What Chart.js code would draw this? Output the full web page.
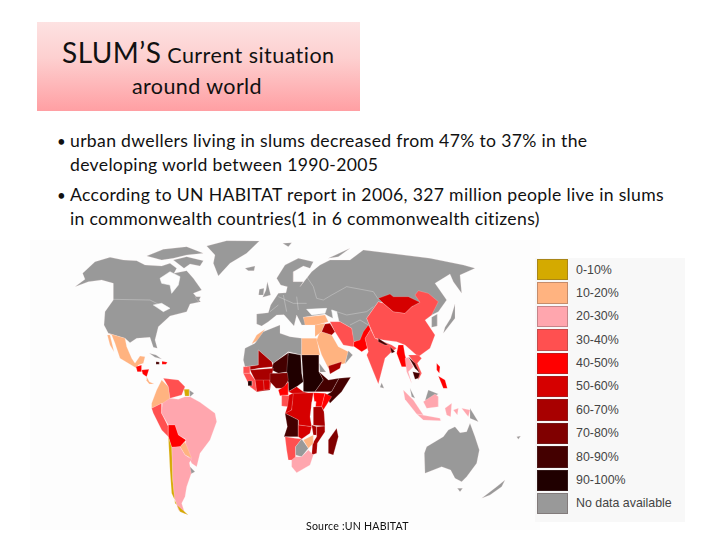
<!DOCTYPE html>
<html>
<head>
<meta charset="utf-8">
<title>Slums map</title>
<script src="https://cdn.jsdelivr.net/npm/chart.js@4"></script>
<style>
html, body { margin: 0; padding: 0; background: #fff; }
body { width: 720px; height: 540px; position: relative; overflow: hidden; font-family: Lato, sans-serif; color: #111; }
#titleBox { position: absolute; left: 37px; top: 22px; width: 323px; height: 89px; background: linear-gradient(#fde2e2, #fdd0d0 40%, #ff9fa3); }
#titleBox .l1 { position: absolute; left: 25px; top: 13px; white-space: nowrap; font-size: 21.5px; letter-spacing: .45px; }
#titleBox .l1 b { font-weight: normal; font-size: 28px; }
#titleBox .l2 { position: absolute; left: 95px; top: 51px; font-size: 21.5px; letter-spacing: .4px; white-space: nowrap; }
.bul { position: absolute; left: 70px; font-size: 17.6px; line-height: 24px; white-space: nowrap; letter-spacing: .33px; }
.bul span { position: absolute; left: -13px; font-size: 15px; }
#mapWrap { position: absolute; left: 30px; top: 240px; width: 510px; height: 290px; background: #fdfdfd; }
#legend { position: absolute; left: 535px; top: 258px; width: 150px; height: 264px; background: #f8f8f8; font-family: "Liberation Sans", sans-serif; font-size: 12.4px; color: #444; }
.row { height: 23.4px; position: relative; }
.row i { position: absolute; left: 2px; top: 1px; width: 31px; height: 21.4px; box-shadow: inset 0 0 0 1px rgba(90,70,70,.35); }
.row em { position: absolute; left: 41px; top: 4.5px; font-style: normal; white-space: nowrap; }
#source { position: absolute; left: 306px; top: 520px; font-family: Lato, sans-serif; font-size: 10.6px; color: #111; letter-spacing: .2px; }
</style>
</head>
<body>
<div id="titleBox">
	<div class="l1"><b>SLUM’S</b> Current situation</div>
	<div class="l2">around world</div>
</div>
<div class="bul" style="top:129px"><span>•</span>urban dwellers living in slums decreased from 47% to 37% in the</div>
<div class="bul" style="top:153px">developing world between 1990-2005</div>
<div class="bul" style="top:183px"><span>•</span>According to UN HABITAT report in 2006, 327 million people live in slums</div>
<div class="bul" style="top:207px">in commonwealth countries(1 in 6 commonwealth citizens)</div>
<div id="mapWrap"><canvas id="myChart" width="510" height="290"></canvas></div>
<div id="legend"></div>
<div id="source">Source :UN HABITAT</div>
<script>
var legendLabels = ['0-10%', '10-20%', '20-30%', '30-40%', '40-50%', '50-60%', '60-70%', '70-80%', '80-90%', '90-100%', 'No data available'];
var legendColors = ['#d4aa00', '#ffb380', '#ffa6ae', '#ff5050', '#ff0000', '#d60000', '#a80000', '#800000', '#440000', '#200000', '#999999'];
var waterColor = '#fdfdfd';
var WATER = -1;
var NODATA = 10;

// outlines, in map units
var northAmerica = [[135,140],[165,118],[158,100],[195,65],[240,52],[280,60],[320,62],[345,75],[395,78],[420,70],[440,85],[432,100],[470,92],[490,115],[515,150],[490,160],[512,185],[480,192],[470,215],[420,228],[385,260],[375,300],[382,325],[370,322],[360,292],[320,295],[300,308],[285,295],[235,280],[222,255],[225,215],[250,180],[250,130],[215,120],[175,125]];
var hudsonBay = [[390,115],[420,95],[450,110],[445,135],[425,160],[420,135],[395,130]];
var greatLakes = [[370,195],[395,190],[420,205],[400,215],[385,205]];
var baffin = [[430,60],[470,50],[520,62],[510,78],[480,72],[462,85]];
var arcticIslands = [[350,48],[400,28],[470,20],[520,40],[470,45],[430,55],[395,60]];
var newfoundland = [[495,170],[512,170],[505,185]];
var greenland = [[530,18],[590,2],[688,3],[650,40],[600,70],[565,108],[550,70],[555,45]];
var cuba = [[358,340],[378,345],[395,357],[375,352]];
var eurasia = [[680,252],[680,222],[715,218],[722,195],[745,160],[768,158],[772,140],[752,135],[740,115],[765,75],[805,55],[850,65],[840,85],[820,78],[790,95],[790,125],[820,125],[810,140],[845,95],[870,75],[900,60],[960,60],[1000,30],[1080,40],[1200,55],[1300,75],[1335,85],[1290,105],[1295,160],[1270,125],[1260,102],[1215,130],[1250,180],[1225,215],[1205,225],[1185,240],[1165,200],[1045,185],[1010,235],[1020,260],[1005,300],[970,305],[965,265],[930,245],[895,228],[885,222],[820,232],[830,255],[815,255],[800,225],[792,258],[762,224],[740,225],[715,245],[695,258]];
var blackSea = [[830,208],[890,205],[885,220],[845,225]];
var caspianSea = [[905,210],[920,215],[928,250],[910,240]];
var britain = [[712,125],[722,165],[698,172],[708,150]];
var ireland = [[688,148],[702,145],[700,165],[686,165]];
var iceland = [[645,85],[675,78],[672,92],[655,92]];
var svalbard = [[758,10],[785,8],[775,20]];
var novayaZemlya = [[895,55],[960,25],[925,50]];
var japan = [[1240,280],[1275,235],[1275,192],[1262,235],[1245,262]];
var korea = [[1205,232],[1222,222],[1222,258],[1205,262]];
var australia = [[1183,640],[1190,620],[1240,590],[1255,570],[1275,560],[1290,578],[1310,575],[1320,550],[1335,590],[1348,630],[1340,670],[1310,710],[1295,725],[1275,715],[1262,690],[1235,680],[1185,700]];
var newZealand = [[1355,775],[1400,740],[1425,720],[1415,740],[1380,765]];
var tasmania = [[1282,745],[1298,745],[1290,755]];
var papua = [[1320,505],[1345,545],[1320,535]];
var sriLanka = [[1055,428],[1062,445],[1050,442]];
var malaysia = [[1140,445],[1155,475],[1145,470]];
var sabah = [[1195,450],[1225,462],[1185,482]];
var fiji = [[1460,590],[1472,588],[1465,598]];
var mexico = [[235,280],[285,295],[290,320],[305,355],[315,370],[330,348],[345,350],[340,370],[325,375],[320,385],[295,370],[270,355],[255,310],[245,285]];
var baja = [[232,285],[240,285],[252,335],[240,315]];
var guatemala = [[318,380],[335,375],[335,395],[322,395]];
var honduras = [[335,390],[357,388],[350,410],[338,402]];
var nicaragua = [[350,410],[358,425],[372,432],[358,432],[348,420]];
var haiti = [[378,365],[388,366],[388,373],[378,373]];
var dominican = [[396,364],[412,367],[408,373],[396,373]];
var colombia = [[395,420],[415,440],[420,475],[412,495],[395,490],[365,505],[365,490],[380,450]];
var venezuela = [[400,415],[445,420],[465,440],[455,465],[420,475],[415,440]];
var suriname = [[462,448],[478,448],[478,468],[465,468]];
var frenchGuiana = [[478,450],[492,460],[480,470]];
var peru = [[365,505],[395,490],[395,520],[415,560],[415,590],[395,570],[370,520]];
var brazil = [[420,475],[445,478],[465,470],[480,470],[510,487],[555,520],[560,545],[540,600],[510,640],[500,680],[485,670],[465,625],[468,598],[445,585],[435,555],[415,555],[395,520],[397,490]];
var bolivia = [[415,555],[435,555],[445,585],[468,600],[450,620],[425,622],[415,590]];
var paraguay = [[450,620],[465,605],[475,630],[485,655],[465,645]];
var uruguay = [[475,675],[495,695],[482,702]];
var argentina = [[425,622],[450,620],[465,645],[485,658],[478,668],[484,700],[470,740],[465,770],[455,790],[465,822],[445,810],[432,770],[428,720]];
var chile = [[415,590],[425,622],[428,720],[435,790],[475,825],[450,815],[425,760],[420,690]];
var morocco = [[705,268],[685,300],[665,312],[680,285]];
var northAfrica = [[750,255],[700,275],[675,310],[645,325],[640,360],[645,380],[685,375],[685,330],[730,370],[775,335],[815,345],[815,295],[780,290],[750,280]];
var egypt = [[815,295],[860,295],[870,345],[815,345]];
var mali = [[685,330],[725,365],[730,380],[685,385],[660,390],[650,380],[685,375]];
var niger = [[730,370],[775,338],[775,395],[745,400],[725,390]];
var chad = [[775,338],[812,345],[815,400],[820,425],[800,440],[775,455],[770,395]];
var sudan = [[815,345],[867,345],[867,395],[880,420],[855,455],[820,455],[820,425]];
var ethiopia = [[867,395],[895,420],[927,415],[905,455],[855,455],[880,420]];
var somalia = [[927,415],[962,412],[935,455],[900,490],[888,465],[905,455]];
var eritrea = [[868,370],[888,396],[870,396]];
var westAfrica = [[660,390],[730,385],[725,410],[720,450],[680,455],[675,420]];
var ghana = [[700,420],[722,420],[720,447],[702,450]];
var ivoryCoast = [[675,420],[700,420],[702,450],[680,455]];
var nigeria = [[720,400],[745,400],[772,398],[775,420],[762,445],[738,445],[720,425]];
var senegal = [[640,380],[660,380],[660,400],[640,400]];
var guinea = [[640,400],[660,400],[675,420],[680,455],[660,440]];
var guineaBissau = [[654,423],[666,423],[666,437],[656,437]];
var cameroon = [[762,440],[775,425],[775,465],[750,467],[745,450]];
var gabon = [[755,465],[780,467],[775,500],[755,498]];
var congo = [[777,465],[792,458],[785,510],[765,522],[772,500]];
var centralAfrica = [[775,455],[800,440],[820,455],[835,458],[790,462]];
var drc = [[790,460],[850,458],[845,490],[840,530],[845,560],[805,555],[805,540],[765,520],[785,510]];
var uganda = [[850,458],[885,460],[875,500],[855,500]];
var kenya = [[885,460],[905,470],[880,510],[875,500]];
var tanzania = [[850,500],[875,500],[882,515],[885,558],[850,556]];
var burundi = [[846,485],[858,485],[856,500],[848,500]];
var angola = [[765,520],[805,540],[805,590],[762,590],[772,560]];
var zambia = [[805,555],[845,560],[840,580],[815,597],[805,590]];
var malawi = [[845,555],[860,560],[860,585],[850,585]];
var mozambique = [[860,560],[885,558],[885,575],[862,610],[860,640],[845,645],[848,610],[860,590]];
var namibia = [[765,590],[795,595],[815,597],[797,620],[797,660],[775,660],[770,630]];
var botswana = [[797,620],[815,597],[835,625],[815,650],[797,645]];
var zimbabwe = [[820,600],[850,585],[850,610],[835,625]];
var southAfrica = [[797,650],[815,650],[835,630],[850,645],[840,675],[800,698],[785,680],[785,660]];
var madagascar = [[920,565],[925,590],[910,645],[895,640],[895,600]];
var turkey = [[820,232],[885,225],[895,245],[860,255],[825,255]];
var syria = [[855,255],[885,250],[875,275],[855,290]];
var saudi = [[875,275],[905,285],[925,320],[955,335],[945,370],[895,385],[875,345],[860,300],[868,280]];
var iraq = [[885,252],[900,250],[915,275],[905,285],[875,275]];
var oman = [[955,332],[968,345],[945,372]];
var yemen = [[895,378],[935,365],[930,385],[900,402]];
var iran = [[900,245],[930,245],[965,265],[972,305],[970,320],[940,315],[915,275]];
var pakistan = [[1015,255],[1022,268],[1005,295],[1012,325],[995,335],[970,318],[972,305],[990,300],[1000,275]];
var china = [[1045,185],[1010,235],[1020,260],[1035,295],[1060,300],[1100,305],[1125,315],[1165,350],[1200,325],[1215,285],[1185,240],[1205,225],[1225,185],[1195,160],[1165,152],[1155,165],[1170,187],[1145,200],[1125,220],[1090,215],[1060,190]];
var mongolia = [[1045,175],[1080,162],[1090,170],[1135,170],[1170,187],[1145,200],[1125,220],[1090,215],[1060,190]];
var india = [[1035,295],[1085,315],[1100,325],[1085,335],[1065,355],[1045,432],[1030,395],[1010,345],[1015,335],[1012,325],[1005,295],[1022,268]];
var nepal = [[1045,295],[1075,315],[1065,315],[1045,305]];
var bangladesh = [[1080,320],[1095,335],[1085,340]];
var myanmar = [[1105,315],[1120,315],[1125,345],[1135,380],[1115,380],[1100,340]];
var vietnam = [[1135,345],[1165,345],[1175,355],[1162,370],[1175,400],[1165,420],[1165,395],[1150,365]];
var thailand = [[1125,355],[1135,352],[1150,380],[1135,395],[1145,430],[1130,395]];
var laos = [[1135,350],[1155,370],[1170,400],[1155,385]];
var cambodia = [[1148,395],[1170,400],[1165,415],[1155,418]];
var luzon = [[1220,370],[1230,380],[1228,400],[1220,390]];
var visayas = [[1225,408],[1245,420],[1252,445],[1240,445],[1232,425]];
var sumatra = [[1120,450],[1150,480],[1180,525],[1160,522],[1125,478]];
var java = [[1160,522],[1230,535],[1232,542],[1180,540]];
var borneo = [[1180,485],[1215,462],[1225,470],[1225,500],[1190,505]];
var sulawesi = [[1245,505],[1265,490],[1262,530],[1250,525]];
var moluccas = [[1270,510],[1285,505],[1282,525]];
var newGuinea = [[1295,505],[1320,510],[1315,530]];

// drawn in this order, second item is the index into legendColors
var regions = [
	[northAmerica, NODATA], [hudsonBay, WATER], [greatLakes, WATER], [baffin, NODATA], [arcticIslands, NODATA], [newfoundland, NODATA], [greenland, NODATA], [cuba, NODATA],
	[eurasia, NODATA], [blackSea, WATER], [caspianSea, WATER], [britain, NODATA], [ireland, NODATA], [iceland, NODATA], [svalbard, NODATA], [novayaZemlya, NODATA], [japan, NODATA], [korea, NODATA],
	[australia, NODATA], [newZealand, NODATA], [tasmania, NODATA], [papua, NODATA], [sriLanka, NODATA], [malaysia, NODATA], [sabah, NODATA], [fiji, NODATA],
	[mexico, 1], [baja, 1], [guatemala, 4], [honduras, 4], [nicaragua, 1], [haiti, 8], [dominican, 4],
	[colombia, 1], [venezuela, 3], [suriname, 0], [frenchGuiana, NODATA], [peru, 3], [brazil, 2], [paraguay, 1], [bolivia, 4], [uruguay, NODATA], [argentina, 2], [chile, 0],
	[morocco, 1], [northAfrica, NODATA], [egypt, 1], [mali, 6], [niger, 8], [chad, 9], [sudan, 9], [ethiopia, 8], [somalia, 8], [eritrea, NODATA],
	[westAfrica, 6], [ghana, 5], [ivoryCoast, 5], [nigeria, 7], [senegal, 3], [guinea, 3], [guineaBissau, 9], [cameroon, 4], [gabon, 3], [congo, 5], [centralAfrica, 5], [drc, 5], [uganda, 4], [kenya, 4], [tanzania, 6], [burundi, WATER],
	[angola, 8], [zambia, 5], [malawi, 6], [mozambique, 6], [namibia, 3], [botswana, NODATA], [zimbabwe, 1], [southAfrica, 2], [madagascar, 7],
	[turkey, 1], [syria, 1], [saudi, 1], [iraq, 6], [oman, NODATA], [yemen, 6], [iran, 3], [china, 3], [mongolia, 5], [india, 3], [pakistan, 4], [nepal, 8], [bangladesh, 8],
	[myanmar, 4], [vietnam, 3], [thailand, 2], [laos, 8], [cambodia, 8], [luzon, 4], [visayas, 4], [sumatra, 2], [java, 2], [borneo, 2], [sulawesi, 2], [moluccas, 2], [newGuinea, 2]
];

// thin light lines between the grey countries
var usCanadaBorder = [[250,178],[360,180],[390,195]];
var kazakhNorth = [[880,180],[905,165],[950,140],[1030,155],[1045,178]];
var kazakhSouth = [[905,210],[950,225],[1010,215],[1030,200]];
var russiaWest = [[830,110],[850,140],[860,175],[880,180]];
var europeRow = [[745,170],[790,190],[830,190]];
var germanyLine = [[760,165],[770,215]];
var polandLine = [[800,170],[805,210]];
var franceLine = [[720,215],[745,195]];
var afghanLine = [[960,255],[990,240],[1015,255]];
var borders = [usCanadaBorder, kazakhNorth, kazakhSouth, russiaWest, europeRow, germanyLine, polandLine, franceLine, afghanLine];

function toPoints(outline) {
	var data = [];
	for (var j = 0; j < outline.length; j++) {
		data.push({ x: outline[j][0], y: outline[j][1] });
	}
	return data;
}

function getDatasets() {
	var datasets = [];
	var total = regions.length + borders.length;
	for (var i = 0; i < regions.length; i++) {
		var cls = regions[i][1];
		var color = cls === WATER ? waterColor : legendColors[cls];
		var data = toPoints(regions[i][0]);
		data.push(data[0]);
		datasets.push({
			data: data,
			showLine: true,
			fill: 'shape',
			backgroundColor: color,
			borderColor: cls === WATER ? color : 'rgba(255,235,235,0.4)',
			borderWidth: 0.5,
			pointRadius: 0,
			tension: 0,
			order: total - i
		});
	}
	for (var k = 0; k < borders.length; k++) {
		datasets.push({
			data: toPoints(borders[k]),
			showLine: true,
			fill: false,
			borderColor: 'rgba(255,255,255,0.45)',
			borderWidth: 0.6,
			pointRadius: 0,
			tension: 0,
			order: borders.length - k - 1
		});
	}
	return datasets;
}

function renderLegend() {
	var legend = document.getElementById('legend');
	for (var i = 0; i < legendLabels.length; i++) {
		var row = document.createElement('div');
		row.className = 'row';
		row.innerHTML = '<i style="background:' + legendColors[i] + '"></i><em>' + legendLabels[i] + '</em>';
		legend.appendChild(row);
	}
}

function renderChart() {
	var chart = document.getElementById('myChart').getContext('2d');
	new Chart(chart, {
		type: 'scatter',
		data: { datasets: getDatasets() },
		options: {
			responsive: false,
			animation: false,
			events: [],
			layout: { padding: 0 },
			plugins: { legend: { display: false }, tooltip: { enabled: false } },
			scales: {
				x: { display: false, min: 0, max: 1530 },
				y: { display: false, min: 0, max: 870, reverse: true }
			}
		}
	});
}

renderLegend();
renderChart();
</script>
</body>
</html>
